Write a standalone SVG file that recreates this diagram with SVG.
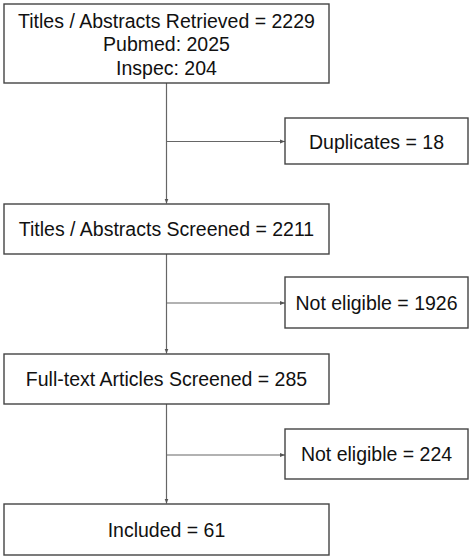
<svg xmlns="http://www.w3.org/2000/svg" width="474" height="558" viewBox="0 0 474 558">
<defs>
<marker id="ah" viewBox="0 0 10 10" refX="10" refY="5" markerWidth="5" markerHeight="5" orient="auto" markerUnits="userSpaceOnUse">
<path d="M0,1 L10,5 L0,9 z" fill="#555"/>
</marker>
<style>
.box{fill:#fff;stroke:#444;stroke-width:1.4}
.t{font-family:"Liberation Sans",Arial,sans-serif;font-size:19.5px;fill:#111;text-anchor:middle}
.c{fill:none;stroke:#666;stroke-width:1.2}
</style>
</defs>
<rect width="474" height="558" fill="#fff"/>
<g id="connectors">
<line class="c" x1="166.5" y1="83" x2="166.5" y2="203.5" marker-end="url(#ah)"/>
<line class="c" x1="167" y1="141.5" x2="285" y2="141.5" marker-end="url(#ah)"/>
<line class="c" x1="166.5" y1="254" x2="166.5" y2="353.5" marker-end="url(#ah)"/>
<line class="c" x1="167" y1="303" x2="285" y2="303" marker-end="url(#ah)"/>
<line class="c" x1="166.5" y1="404" x2="166.5" y2="503.5" marker-end="url(#ah)"/>
<line class="c" x1="167" y1="455" x2="285" y2="455" marker-end="url(#ah)"/>
</g>
<g id="retrieved">
<rect class="box" x="4" y="4" width="325" height="79"/>
<text class="t" x="166.5" y="27.5">Titles / Abstracts Retrieved = 2229</text>
<text class="t" x="166.5" y="51">Pubmed: 2025</text>
<text class="t" x="166.5" y="74.5">Inspec: 204</text>
</g>
<g id="duplicates">
<rect class="box" x="285" y="118" width="183" height="46"/>
<text class="t" x="376.5" y="148.5">Duplicates = 18</text>
</g>
<g id="screened">
<rect class="box" x="4" y="204" width="325" height="50"/>
<text class="t" x="166.5" y="235.5">Titles / Abstracts Screened = 2211</text>
</g>
<g id="noteligible1">
<rect class="box" x="285" y="277" width="183" height="51"/>
<text class="t" x="376.5" y="309.5">Not eligible = 1926</text>
</g>
<g id="fulltext">
<rect class="box" x="4" y="354" width="325" height="50"/>
<text class="t" x="166.5" y="385.5">Full-text Articles Screened = 285</text>
</g>
<g id="noteligible2">
<rect class="box" x="285" y="429" width="183" height="50"/>
<text class="t" x="376.5" y="461">Not eligible = 224</text>
</g>
<g id="included">
<rect class="box" x="4" y="504" width="325" height="51"/>
<text class="t" x="166.5" y="536.5">Included = 61</text>
</g>
</svg>
